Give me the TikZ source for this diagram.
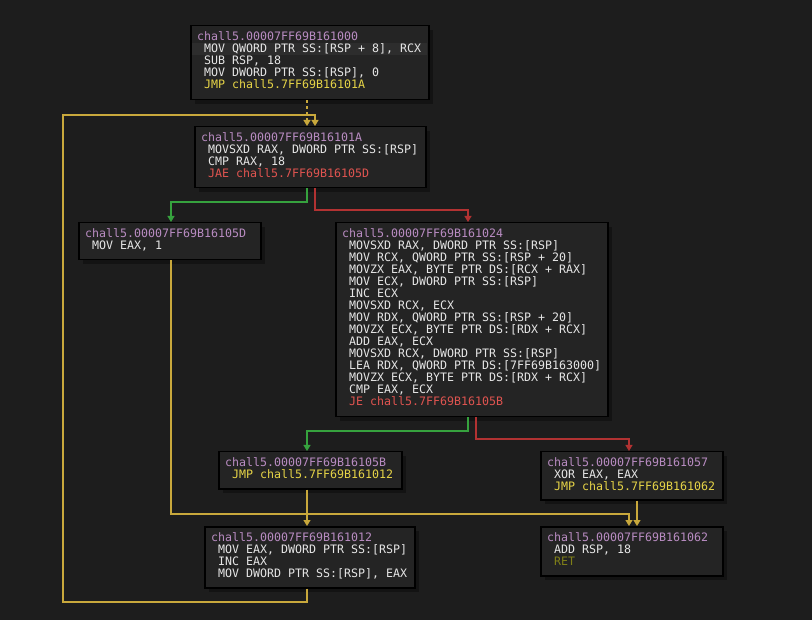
\documentclass[tikz,border=0pt]{standalone}
\usepackage{fontspec}
\newfontfamily\codefont{DejaVu Sans Mono}
\usetikzlibrary{arrows.meta,shadows}
\definecolor{bg}{HTML}{1D1D1D}
\definecolor{boxc}{HTML}{242424}
\definecolor{shad}{HTML}{131313}
\definecolor{hl}{HTML}{2D2D2D}
\definecolor{txtc}{HTML}{E6E6E6}
\definecolor{lblc}{HTML}{B98CC2}
\definecolor{jmpc}{HTML}{E6D447}
\definecolor{jccc}{HTML}{E05450}
\definecolor{retc}{HTML}{808018}
\definecolor{edgey}{HTML}{C8A83C}
\definecolor{edgeg}{HTML}{36A23E}
\definecolor{edger}{HTML}{B23232}
\newcommand\lb[1]{\rule{0pt}{12pt}\textcolor{lblc}{#1}}
\newcommand\ind{\phantom{M}}
\newcommand\jm[1]{\textcolor{jmpc}{#1}}
\newcommand\jc[1]{\textcolor{jccc}{#1}}
\begin{document}
\begin{tikzpicture}[x=1pt,y=-1pt,
  box/.style={draw=black, line width=1.5pt, fill=boxc, anchor=north west, inner sep=0pt,
    general shadow={fill=shad, shadow xshift=4pt, shadow yshift=-4pt}},
  txt/.style={anchor=north west, inner sep=0pt, align=left, text=txtc,
    font=\fontsize{11.63}{12}\selectfont\codefont\frenchspacing},
  edge/.style={line width=1.2pt, -{Triangle[width=7pt,length=6pt]}},
  ey/.style={edge, draw=edgey},
  eg/.style={edge, draw=edgeg},
  er/.style={edge, draw=edger}]
\fill[bg] (0,0) rectangle (812,620);
\useasboundingbox (0,0) rectangle (812,620);
% helper coordinates
\coordinate (xa) at (307,0);
\coordinate (xb) at (315,0);
\coordinate (xc) at (171,0);
\coordinate (xd) at (468,0);
\coordinate (xd2) at (476,0);
\coordinate (xf) at (629,0);
\coordinate (xf2) at (637,0);
\coordinate (xl) at (63,0);
\coordinate (yl) at (0,115);
\coordinate (yb) at (0,602);
\coordinate (y202) at (0,202);
\coordinate (y210) at (0,210);
\coordinate (y431) at (0,431);
\coordinate (y439) at (0,439);
\coordinate (y514) at (0,514);
% boxes
\node[box, minimum width=238pt, minimum height=74pt] (A) at (190,25) {};
\node[box, minimum width=231pt, minimum height=61pt] (B) at (194,126) {};
\node[box, minimum width=182pt, minimum height=37pt] (C) at (78,222) {};
\node[box, minimum width=272pt, minimum height=194pt] (D) at (335,222) {};
\node[box, minimum width=183pt, minimum height=37pt] (E) at (218,451) {};
\node[box, minimum width=182pt, minimum height=48pt] (F) at (540,451) {};
\node[box, minimum width=210pt, minimum height=61pt] (G) at (204,526) {};
\node[box, minimum width=182pt, minimum height=49pt] (H) at (540,526) {};
\fill[hl] (191.5,43.5) rectangle (426.5,55.5);
% texts
\node[txt] (At) at (197,28.6) {\lb{chall5.00007FF69B161000}\\
\ind MOV QWORD PTR SS:[RSP + 8], RCX\\
\ind SUB RSP, 18\\
\ind MOV DWORD PTR SS:[RSP], 0\\
\ind\jm{JMP chall5.7FF69B16101A}};
\node[txt] (Bt) at (201,129.6) {\lb{chall5.00007FF69B16101A}\\
\ind MOVSXD RAX, DWORD PTR SS:[RSP]\\
\ind CMP RAX, 18\\
\ind\jc{JAE chall5.7FF69B16105D}};
\node[txt] (Ct) at (85,225.6) {\lb{chall5.00007FF69B16105D}\\
\ind MOV EAX, 1};
\node[txt] (Dt) at (342,225.6) {\lb{chall5.00007FF69B161024}\\
\ind MOVSXD RAX, DWORD PTR SS:[RSP]\\
\ind MOV RCX, QWORD PTR SS:[RSP + 20]\\
\ind MOVZX EAX, BYTE PTR DS:[RCX + RAX]\\
\ind MOV ECX, DWORD PTR SS:[RSP]\\
\ind INC ECX\\
\ind MOVSXD RCX, ECX\\
\ind MOV RDX, QWORD PTR SS:[RSP + 20]\\
\ind MOVZX ECX, BYTE PTR DS:[RDX + RCX]\\
\ind ADD EAX, ECX\\
\ind MOVSXD RCX, DWORD PTR SS:[RSP]\\
\ind LEA RDX, QWORD PTR DS:[7FF69B163000]\\
\ind MOVZX ECX, BYTE PTR DS:[RDX + RCX]\\
\ind CMP EAX, ECX\\
\ind\jc{JE chall5.7FF69B16105B}};
\node[txt] (Et) at (225,454.6) {\lb{chall5.00007FF69B16105B}\\
\ind\jm{JMP chall5.7FF69B161012}};
\node[txt] (Ft) at (547,454.6) {\lb{chall5.00007FF69B161057}\\
\ind XOR EAX, EAX\\
\ind\jm{JMP chall5.7FF69B161062}};
\node[txt] (Gt) at (211,529.6) {\lb{chall5.00007FF69B161012}\\
\ind MOV EAX, DWORD PTR SS:[RSP]\\
\ind INC EAX\\
\ind MOV DWORD PTR SS:[RSP], EAX};
\node[txt] (Ht) at (547,529.6) {\lb{chall5.00007FF69B161062}\\
\ind ADD RSP, 18\\
\ind\textcolor{retc}{RET}};
% edges
\draw[ey, dash pattern=on 3pt off 3pt] (A.south -| xa) -- (B.north -| xa);
\draw[ey] (G.south -| xa) |- (xl |- yb) |- (xb |- yl) -- (B.north -| xb);
\draw[eg] (B.south -| xa) |- (xc |- y202) -- (C.north -| xc);
\draw[er] (B.south -| xb) |- (xd |- y210) -- (D.north -| xd);
\draw[ey] (C.south -| xc) |- (xf |- y514) -- (H.north -| xf);
\draw[eg] (D.south -| xd) |- (xa |- y431) -- (E.north -| xa);
\draw[er] (D.south -| xd2) |- (xf |- y439) -- (F.north -| xf);
\draw[ey] (E.south -| xa) -- (G.north -| xa);
\draw[ey] (F.south -| xf2) -- (H.north -| xf2);
\end{tikzpicture}
\end{document}
